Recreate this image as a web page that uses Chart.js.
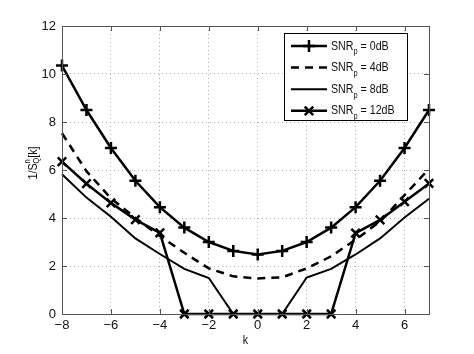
<!DOCTYPE html>
<html>
<head>
<meta charset="utf-8">
<script src="https://cdn.jsdelivr.net/npm/chart.js@4.4.0/dist/chart.umd.min.js"></script>
<style>
  html, body { margin: 0; padding: 0; background: #fff; }
</style>
</head>
<body>
<canvas id="chart" width="474" height="354"></canvas>
<script>
// data
const kValues = [-8, -7, -6, -5, -4, -3, -2, -1, 0, 1, 2, 3, 4, 5, 6, 7];
const snr0dB  = [10.35, 8.5, 6.92, 5.55, 4.45, 3.6, 3.0, 2.63, 2.48, 2.63, 3.0, 3.6, 4.45, 5.55, 6.92, 8.5];
const snr4dB  = [7.53, 5.95, 4.82, 4.0, 3.25, 2.55, 1.9, 1.57, 1.48, 1.53, 1.9, 2.4, 3.1, 3.85, 4.95, 6.05];
const snr8dB  = [5.82, 4.85, 4.05, 3.15, 2.5, 1.88, 1.5, 0, 0, 0, 1.52, 1.88, 2.48, 3.15, 4.02, 4.8];
const snr12dB = [6.35, 5.43, 4.63, 3.93, 3.38, 0, 0, 0, 0, 0, 0, 0, 3.37, 3.92, 4.68, 5.44];
const seriesLabels = ['0dB', '4dB', '8dB', '12dB'];
const xTickLabels = [-8, -6, -4, -2, 0, 2, 4, 6];
const yTickLabels = [0, 2, 4, 6, 8, 10, 12];

const FONT = '"Liberation Sans", Arial, sans-serif';
const SQUEEZE = 0.82; // the original text is narrow

function toPoints(ys) {
    return kValues.map((k, i) => ({ x: k, y: ys[i] }));
}

// draws a run of [text, size, dy] pieces starting at (x, y), squeezed horizontally
function drawRuns(ctx, runs, x, y) {
    ctx.save();
    ctx.translate(x, y);
    ctx.scale(SQUEEZE, 1);
    let cx = 0;
    runs.forEach(r => {
        ctx.font = r[1] + 'px ' + FONT;
        if (r[3] !== undefined) {
            // stacked super/subscript
            ctx.fillText(r[0], cx, r[2]);
            ctx.fillText(r[3], cx, r[4]);
            cx += Math.max(ctx.measureText(r[0]).width, ctx.measureText(r[3]).width);
        } else {
            ctx.fillText(r[0], cx, r[2]);
            cx += ctx.measureText(r[0]).width;
        }
    });
    ctx.restore();
    return cx * SQUEEZE;
}

function runsWidth(ctx, runs) {
    let w = 0;
    runs.forEach(r => {
        ctx.font = r[1] + 'px ' + FONT;
        w += r[3] !== undefined
            ? Math.max(ctx.measureText(r[0]).width, ctx.measureText(r[3]).width)
            : ctx.measureText(r[0]).width;
    });
    return w * SQUEEZE;
}

// box, inward ticks, y title, x title, legend
const decorPlugin = {
    id: 'decor',
    afterDraw(chart) {
        const ctx = chart.ctx;
        const a = chart.chartArea;
        const xs = chart.scales.x, ys = chart.scales.y;
        ctx.save();

        // frame
        ctx.strokeStyle = '#555';
        ctx.lineWidth = 1;
        ctx.strokeRect(Math.round(a.left) + 0.5, Math.round(a.top) + 0.5,
            Math.round(a.right - a.left), Math.round(a.bottom - a.top));

        // inward ticks
        ctx.beginPath();
        xTickLabels.forEach(v => {
            const px = Math.round(xs.getPixelForValue(v)) + 0.5;
            ctx.moveTo(px, a.bottom); ctx.lineTo(px, a.bottom - 5);
            ctx.moveTo(px, a.top); ctx.lineTo(px, a.top + 5);
        });
        yTickLabels.forEach(v => {
            const py = Math.round(ys.getPixelForValue(v)) + 0.5;
            ctx.moveTo(a.left, py); ctx.lineTo(a.left + 5, py);
            ctx.moveTo(a.right, py); ctx.lineTo(a.right - 5, py);
        });
        ctx.stroke();

        ctx.fillStyle = '#111';
        ctx.textAlign = 'left';
        ctx.textBaseline = 'middle';

        // x title
        const kRun = [['k', 13, 0]];
        drawRuns(ctx, kRun, (a.left + a.right) / 2 - runsWidth(ctx, kRun) / 2, 340);

        // y title: 1/S^n_Q[k]
        const yRun = [['1/S', 13, 0], ['n', 9, -5, 'Q', 4], ['[k]', 13, 0]];
        ctx.save();
        ctx.translate(33, 163);
        ctx.rotate(-Math.PI / 2);
        drawRuns(ctx, yRun, -runsWidth(ctx, yRun) / 2, 0);
        ctx.restore();

        // legend
        const lx = 284, ly = 33, lw = 123, lh = 87;
        ctx.fillStyle = '#fff';
        ctx.fillRect(lx, ly, lw, lh);
        ctx.strokeStyle = '#000';
        ctx.lineWidth = 1;
        ctx.strokeRect(lx + 0.5, ly + 0.5, lw, lh);
        chart.data.datasets.forEach((ds, i) => {
            const y = 46 + i * 21.6;
            ctx.strokeStyle = '#000';
            ctx.lineWidth = ds.borderWidth;
            ctx.setLineDash(ds.borderDash || []);
            ctx.beginPath();
            ctx.moveTo(291, y); ctx.lineTo(327, y);
            ctx.stroke();
            ctx.setLineDash([]);
            if (ds.pointRadius > 0) {
                ctx.lineWidth = ds.pointBorderWidth;
                Chart.helpers.drawPoint(ctx, {
                    pointStyle: ds.pointStyle, rotation: 0,
                    radius: ds.pointRadius, borderWidth: ds.pointBorderWidth
                }, 309, y);
            }
            ctx.fillStyle = '#111';
            drawRuns(ctx, [['SNR', 13, 0], ['p', 9, 6], [' = ' + seriesLabels[i], 13, 0]], 331, y);
        });

        ctx.restore();
    }
};

const ctx = document.getElementById('chart');
new Chart(ctx, {
    type: 'line',
    data: {
        datasets: [
            {
                label: 'SNRp = ' + seriesLabels[0], data: toPoints(snr0dB),
                borderColor: '#000', borderWidth: 2.5, pointStyle: 'cross',
                pointRadius: 6, pointBorderWidth: 2.5, pointBorderColor: '#000', clip: false
            },
            {
                label: 'SNRp = ' + seriesLabels[1], data: toPoints(snr4dB),
                borderColor: '#000', borderWidth: 2.5, borderDash: [8, 6],
                pointRadius: 0, clip: false
            },
            {
                label: 'SNRp = ' + seriesLabels[2], data: toPoints(snr8dB),
                borderColor: '#000', borderWidth: 2, pointRadius: 0, clip: false
            },
            {
                label: 'SNRp = ' + seriesLabels[3], data: toPoints(snr12dB),
                borderColor: '#000', borderWidth: 2.5, pointStyle: 'crossRot',
                pointRadius: 6, pointBorderWidth: 2.5, pointBorderColor: '#000', clip: false
            }
        ]
    },
    options: {
        responsive: false,
        animation: false,
        devicePixelRatio: 1,
        layout: { padding: { left: 0, right: 45, top: 26, bottom: 0 } },
        elements: { line: { tension: 0, fill: false } },
        plugins: { legend: { display: false }, tooltip: { enabled: false } },
        scales: {
            x: {
                type: 'linear', min: -8, max: 7,
                afterFit: s => { s.height = 40; },
                ticks: {
                    stepSize: 2, includeBounds: false, padding: 4,
                    color: '#111', font: { family: FONT, size: 13 },
                    callback: v => (v < 0 ? '\u2212' + Math.abs(v) : String(v))
                },
                grid: { color: '#b0b0b0', lineWidth: 1, drawTicks: false },
                border: { display: false, dash: [1, 3] }
            },
            y: {
                min: 0, max: 12,
                afterFit: s => { s.width = 62; },
                ticks: {
                    stepSize: 2, padding: 6,
                    color: '#111', font: { family: FONT, size: 13 }
                },
                grid: { color: '#b0b0b0', lineWidth: 1, drawTicks: false },
                border: { display: false, dash: [1, 3] }
            }
        }
    },
    plugins: [decorPlugin]
});
</script>
</body>
</html>
